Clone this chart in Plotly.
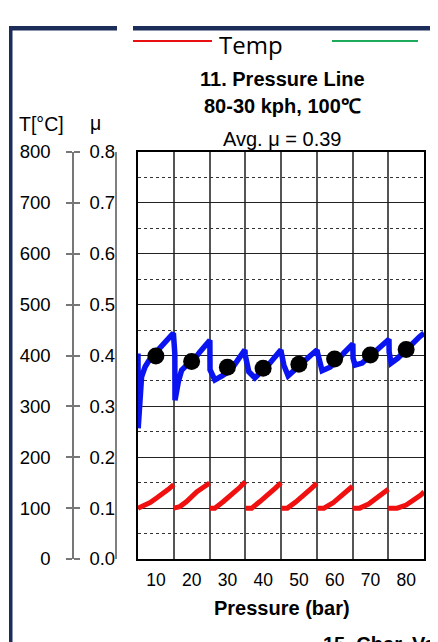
import plotly.graph_objects as go

W, H = 438, 642

# friction coefficient trace (pressure in bar, mu)
mu_p = [5.0, 5.05, 6.0, 7.0, 8.4, 10.2, 12.1, 13.5, 14.9,
        15.3, 15.35, 16.3, 17.2, 18.6, 20.9, 22.3, 23.7, 25.1,
        25.15, 26.5, 28.5, 30.2, 31.9, 33.5, 34.9,
        35.0, 36.0, 37.7, 39.7, 41.4, 43.3, 45.0,
        45.05, 45.8, 47.0, 48.9, 50.9, 53.1, 55.1,
        55.15, 56.5, 58.7, 60.7, 62.6, 65.1,
        65.15, 65.7, 67.7, 69.6, 71.6, 73.5, 75.2,
        75.25, 75.8, 77.7, 79.7, 81.6, 83.6, 85.0]
mu_v = [0.404, 0.257, 0.358, 0.378, 0.394, 0.407, 0.421, 0.434, 0.444,
        0.404, 0.312, 0.349, 0.371, 0.381, 0.394, 0.407, 0.417, 0.430,
        0.372, 0.352, 0.360, 0.368, 0.381, 0.397, 0.411,
        0.401, 0.368, 0.356, 0.368, 0.381, 0.397, 0.411,
        0.407, 0.381, 0.360, 0.371, 0.385, 0.399, 0.411,
        0.407, 0.370, 0.377, 0.389, 0.405, 0.423,
        0.395, 0.381, 0.385, 0.397, 0.411, 0.423, 0.432,
        0.407, 0.385, 0.395, 0.409, 0.425, 0.436, 0.444]

# average mu per pressure step
avg_p = [10, 20, 30, 40, 50, 60, 70, 80]
avg_mu = [0.399, 0.388, 0.377, 0.375, 0.383, 0.393, 0.401, 0.412]

# temperature trace (pressure in bar, deg C), None splits the steps
temp_p = [5, 7, 8.4, 10, 12.1, 13.5, 15, None,
          15, 16.7, 18.6, 21.4, 23.5, 25, None,
          25, 26.5, 28.9, 31.7, 33.5, 35, None,
          35, 36.8, 39.1, 41.9, 43.5, 45, None,
          45, 46.8, 49.1, 51.9, 53.5, 55, None,
          55, 57, 59.5, 62, 63.5, 65, None,
          65, 67, 69.5, 72, 73.5, 75, None,
          75, 77.5, 80, 82.5, 84, 85]
temp_v = [100, 106, 111, 119, 129, 137, 146, None,
          100, 103, 113, 132, 142, 149, None,
          100, 100, 113, 129, 141, 152, None,
          100, 100, 113, 129, 140, 150, None,
          100, 100, 112, 128, 139, 149, None,
          100, 100, 110, 125, 134, 143, None,
          100, 100, 108, 121, 129, 137, None,
          100, 100, 106, 117, 125, 132]

x_ticks = [10, 20, 30, 40, 50, 60, 70, 80]
x_grid = [5, 15, 25, 35, 45, 55, 65, 75, 85]

FONT = "Liberation Sans, Arial, sans-serif"
NAVY = "#1c2d5a"
OFF = 8  # the page body adds an 8px margin, so pull everything back by that


def px(x):
    return (x - OFF) / W


def py(y):
    return 1 - (y - OFF) / H


fig = go.Figure()
fig.add_trace(go.Scatter(x=mu_p, y=mu_v, mode="lines",
                         line=dict(color="#0a14f0", width=5.5), name="μ"))
fig.add_trace(go.Scatter(x=avg_p, y=avg_mu, mode="markers",
                         marker=dict(color="black", size=17), name="Avg. μ"))
fig.add_trace(go.Scatter(x=temp_p, y=temp_v, mode="lines", yaxis="y2",
                         connectgaps=False,
                         line=dict(color="#f01010", width=5), name="Temp"))
# empty trace so the mu label axis is drawn
fig.add_trace(go.Scatter(x=[None], y=[None], yaxis="y3", showlegend=False, hoverinfo="skip"))

shapes = [
    # navy frame
    dict(type="rect", xref="paper", yref="paper", x0=px(9), x1=px(12.5), y0=-0.05, y1=py(26),
         fillcolor=NAVY, line_width=0),
    dict(type="rect", xref="paper", yref="paper", x0=px(9), x1=px(117), y0=py(30.5), y1=py(26),
         fillcolor=NAVY, line_width=0),
    dict(type="rect", xref="paper", yref="paper", x0=px(133), x1=1.0, y0=py(30.5), y1=py(26),
         fillcolor=NAVY, line_width=0),
    # legend keys
    dict(type="line", xref="paper", yref="paper", x0=px(133), x1=px(212), y0=py(41), y1=py(41),
         line=dict(color="#e81010", width=2)),
    dict(type="line", xref="paper", yref="paper", x0=px(332), x1=px(418), y0=py(41), y1=py(41),
         line=dict(color="#1daa5a", width=2)),
    dict(type="rect", xref="paper", yref="paper", x0=px(436), x1=px(438.5), y0=py(53), y1=py(37),
         fillcolor="#8a5a1a", line_width=0),
    # thin line beside the mu labels
    dict(type="line", xref="paper", yref="paper", x0=px(116), x1=px(116), y0=py(559), y1=py(152),
         line=dict(color="black", width=1)),
    # edge of the neighbouring panel
    dict(type="rect", xref="paper", yref="paper", x0=px(434), x1=px(450), y0=py(557), y1=py(152),
         line=dict(color="black", width=1.2)),
]
for g in [0.05, 0.1, 0.15, 0.2, 0.25, 0.3, 0.35, 0.4, 0.45, 0.5, 0.55, 0.6, 0.65, 0.7, 0.75]:
    dotted = round(g * 20) % 2 == 1
    shapes.append(dict(type="line", xref="paper", yref="y", x0=px(434), x1=px(450), y0=g, y1=g,
                       line=dict(color="#333", width=1, dash="dot" if dotted else "solid")))

annotations = [
    dict(text="Temp", x=px(217), y=py(44), xanchor="left", yanchor="middle",
         font=dict(family="Open Sans, Noto Sans, sans-serif", size=24, color="black")),
    dict(text="<b>11. Pressure Line</b>", x=px(282), y=py(79), xanchor="center", yanchor="middle",
         font=dict(size=20)),
    dict(text="<b>80-30 kph, 100℃</b>", x=px(282), y=py(106), xanchor="center", yanchor="middle",
         font=dict(size=20)),
    dict(text="Avg. μ = 0.39", x=px(282), y=py(139), xanchor="center", yanchor="middle",
         font=dict(size=20)),
    dict(text="T[°C]", x=px(17), y=py(124), xanchor="left", yanchor="middle",
         font=dict(size=19.5)),
    dict(text="μ", x=px(88), y=py(123), xanchor="left", yanchor="middle",
         font=dict(size=19.5)),
    dict(text="<b>15. Char. Value</b>", x=px(321), y=py(631), xanchor="left", yanchor="top",
         font=dict(size=20)),
    dict(text="<b>Pressure (bar)</b>", x=px(282), y=py(608), xanchor="center", yanchor="middle",
         font=dict(size=20)),
]
for a in annotations:
    a.update(xref="paper", yref="paper", showarrow=False)
    a["font"].setdefault("family", FONT)
    a["font"].setdefault("color", "black")

fig.update_layout(
    width=W, height=H,
    margin=dict(l=0, r=0, t=0, b=0, autoexpand=False),
    paper_bgcolor="white", plot_bgcolor="white",
    showlegend=False,
    font=dict(family=FONT, size=18, color="black"),
    shapes=shapes,
    annotations=annotations,
    xaxis=dict(
        domain=[px(138), px(424)], range=[5, 85], automargin=False,
        tickmode="array", tickvals=x_ticks, ticks="", showgrid=False,
        minor=dict(tickmode="array", tickvals=x_grid, showgrid=True,
                   gridcolor="#555", gridwidth=1.5, ticks=""),
        showline=True, mirror=True, linecolor="black", linewidth=1.5,
        tickfont=dict(size=17.5), zeroline=False, ticklabelstandoff=4,
    ),
    yaxis=dict(
        domain=[py(559), py(152)], range=[0, 0.8], automargin=False,
        dtick=0.1, showticklabels=False, ticks="",
        showgrid=True, gridcolor="#222", gridwidth=1,
        minor=dict(dtick=0.05, showgrid=True, griddash="dot", gridcolor="#333", gridwidth=1),
        showline=True, mirror=True, linecolor="black", linewidth=1.5, zeroline=False,
    ),
    yaxis2=dict(
        overlaying="y", anchor="free", position=px(73), side="left", automargin=False,
        range=[0, 800], dtick=100, ticks="outside", ticklen=6, tickcolor="#777", tickwidth=1.5,
        showline=True, linecolor="#777", linewidth=1.5, showgrid=False, zeroline=False,
        tickfont=dict(size=18.5), ticklabelstandoff=12,
    ),
    yaxis3=dict(
        overlaying="y", anchor="free", position=px(73), side="right", automargin=False,
        range=[0, 0.8], dtick=0.1, tickformat=".1f", ticks="outside", ticklen=6,
        tickcolor="#777", tickwidth=1.5, showline=True, linecolor="#777", linewidth=1.5,
        showgrid=False, zeroline=False,
        tickfont=dict(size=18.5), ticklabelstandoff=6,
    ),
)

fig.write_html("out.html")
